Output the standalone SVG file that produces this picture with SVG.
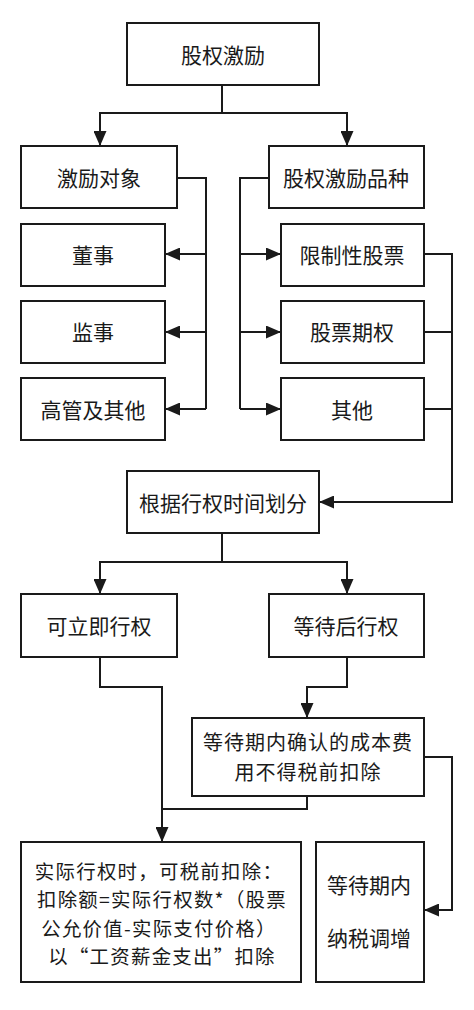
<svg xmlns="http://www.w3.org/2000/svg" width="474" height="1010" viewBox="0 0 474 1010">
<style>
.box{fill:#fff;stroke:#1a1a1a;stroke-width:2}
.t{font-family:"Noto Sans CJK SC","Noto Sans",sans-serif;font-size:21px;fill:#1a1a1a;text-anchor:middle;dominant-baseline:central}
.m{font-size:20px;letter-spacing:1px}
.s{font-size:19.4px;letter-spacing:1.3px}
.c{fill:none;stroke:#1a1a1a;stroke-width:2}
.a{marker-end:url(#arr)}
</style>
<defs>
<marker id="arr" viewBox="0 0 15 13" refX="15" refY="6.5" markerWidth="15" markerHeight="13" markerUnits="userSpaceOnUse" orient="auto">
<path d="M0,0 L15,6.5 L0,13 z" fill="#1a1a1a"/>
</marker>
</defs>
<rect width="474" height="1010" fill="#fff"/>
<g id="connectors">
<path class="c a" d="M222,85 V113 H100 V146"/>
<path class="c a" d="M222,113 H347 V146"/>
<path class="c" d="M177,178 H206 V409"/>
<path class="c a" d="M206,254 H165"/>
<path class="c a" d="M206,332 H165"/>
<path class="c a" d="M206,409 H165"/>
<path class="c" d="M269,178 H240 V409"/>
<path class="c a" d="M240,254 H281"/>
<path class="c a" d="M240,332 H281"/>
<path class="c a" d="M240,409 H281"/>
<path class="c a" d="M424,254 H452 V502 H319"/>
<path class="c" d="M424,332 H452"/>
<path class="c" d="M424,409 H452"/>
<path class="c a" d="M222,533 V562 H100 V594"/>
<path class="c a" d="M222,562 H347 V594"/>
<path class="c a" d="M100,657 V687 H162 V842"/>
<path class="c a" d="M347,657 V687 H307 V718"/>
<path class="c" d="M307,796 V809 H162"/>
<path class="c a" d="M424,757 H452 V910 H424"/>
</g>
<g id="n1"><rect class="box" x="127" y="23" width="192" height="62"/><text class="t" x="223" y="54">股权激励</text></g>
<g id="n2"><rect class="box" x="21" y="146" width="156" height="62"/><text class="t" x="99" y="177">激励对象</text></g>
<g id="n3"><rect class="box" x="269" y="146" width="155" height="62"/><text class="t" x="346" y="177">股权激励品种</text></g>
<g id="n4"><rect class="box" x="21" y="224" width="144" height="62"/><text class="t" x="93" y="254">董事</text></g>
<g id="n5"><rect class="box" x="21" y="301" width="144" height="62"/><text class="t" x="93" y="331">监事</text></g>
<g id="n6"><rect class="box" x="21" y="378" width="144" height="62"/><text class="t" x="93" y="409">高管及其他</text></g>
<g id="n7"><rect class="box" x="281" y="224" width="143" height="62"/><text class="t" x="352" y="254">限制性股票</text></g>
<g id="n8"><rect class="box" x="281" y="301" width="143" height="62"/><text class="t" x="352" y="331">股票期权</text></g>
<g id="n9"><rect class="box" x="281" y="378" width="143" height="62"/><text class="t" x="352" y="409">其他</text></g>
<g id="n10"><rect class="box" x="127" y="471" width="192" height="62"/><text class="t" x="223" y="502">根据行权时间划分</text></g>
<g id="n11"><rect class="box" x="21" y="594" width="156" height="63"/><text class="t" x="99" y="625">可立即行权</text></g>
<g id="n12"><rect class="box" x="269" y="594" width="155" height="63"/><text class="t" x="346" y="625">等待后行权</text></g>
<g id="n13"><rect class="box" x="192" y="718" width="232" height="78"/><text class="t m" x="308" y="741">等待期内确认的成本费</text><text class="t m" x="308" y="771">用不得税前扣除</text></g>
<g id="n14"><rect class="box" x="21" y="842" width="280" height="140"/>
<text class="t s" x="159" y="870">实际行权时，可税前扣除：</text>
<text class="t s" x="162" y="898.5">扣除额=实际行权数*（股票</text>
<text class="t s" x="159" y="927">公允价值-实际支付价格）</text>
<text class="t s" x="162" y="955.5">以“工资薪金支出”扣除</text></g>
<g id="n15"><rect class="box" x="316" y="842" width="108" height="140"/><text class="t" x="369" y="884">等待期内</text><text class="t" x="369" y="937">纳税调增</text></g>
</svg>
